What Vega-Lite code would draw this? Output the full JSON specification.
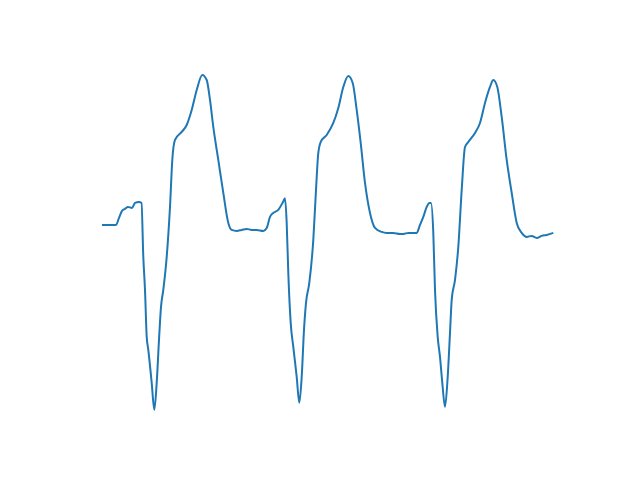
{
  "$schema": "https://vega.github.io/schema/vega-lite/v6.json",
  "width": 496,
  "height": 369,
  "autosize": {"type": "none"},
  "padding": {"left": 80, "top": 58, "right": 64, "bottom": 53},
  "background": "white",
  "config": {"view": {"stroke": null}},
  "data": {"values": [
    {"t":102,"v":15},{"t":116,"v":15},{"t":119,"v":22},{"t":122,"v":29},{"t":125,"v":31},{"t":128,"v":33},{"t":132,"v":32},{"t":135,"v":37},{"t":139,"v":38},{"t":141.5,"v":37},
    {"t":143.3,"v":-17},{"t":145,"v":-50},{"t":146.7,"v":-97},{"t":148.3,"v":-110},{"t":151.7,"v":-143},{"t":154.3,"v":-170},{"t":156.7,"v":-143},{"t":159,"v":-100},{"t":161,"v":-67},{"t":163.3,"v":-50},{"t":166.7,"v":-17},{"t":170,"v":33},{"t":172.3,"v":80},{"t":175,"v":100},{"t":181.7,"v":108},{"t":186.7,"v":115},{"t":191.7,"v":130},{"t":196.7,"v":150},{"t":202.3,"v":165},{"t":206.7,"v":160},{"t":210,"v":140},{"t":213.3,"v":113},{"t":218.3,"v":80},{"t":223.3,"v":47},{"t":228.3,"v":17},{"t":231.7,"v":10},{"t":236.7,"v":9},{"t":241.7,"v":10},{"t":246.7,"v":11},{"t":251.7,"v":10},
    {"t":256.7,"v":10},{"t":263.3,"v":9},{"t":266.7,"v":12},{"t":270,"v":23},{"t":273.3,"v":27},{"t":278.3,"v":30},{"t":283,"v":38},{"t":285,"v":41.7},{"t":286.7,"v":16.7},{"t":288.3,"v":-33},{"t":290.7,"v":-83},{"t":293.3,"v":-107},{"t":296.7,"v":-137},{"t":299.3,"v":-163},{"t":301.7,"v":-137},{"t":304,"v":-90},{"t":306,"v":-63},{"t":309.3,"v":-43},{"t":313.3,"v":0},{"t":316,"v":50},{"t":318.3,"v":87},{"t":320.7,"v":98},{"t":326.7,"v":105},{"t":333.3,"v":117},{"t":338.3,"v":132},{"t":343.3,"v":153},{"t":348.3,"v":164},{"t":352.7,"v":157},{"t":356.7,"v":130},{"t":360.7,"v":97},{"t":365,"v":57},{"t":370,"v":27},{"t":375,"v":12},{"t":381.7,"v":8},{"t":386.7,"v":7},{"t":393.3,"v":7},{"t":400,"v":6},{"t":403.3,"v":6},{"t":408.3,"v":7},{"t":416.7,"v":7},
    {"t":420,"v":15},{"t":423.3,"v":23},{"t":426.7,"v":33},{"t":429.5,"v":37},{"t":431,"v":37},{"t":433.3,"v":7},{"t":435,"v":-50},{"t":437.7,"v":-97},{"t":440,"v":-117},{"t":442.3,"v":-143},{"t":445,"v":-167},{"t":447.7,"v":-137},{"t":450,"v":-93},{"t":451.7,"v":-60},{"t":455,"v":-40},{"t":458.3,"v":-7},{"t":461.7,"v":50},{"t":465,"v":93},{"t":468.3,"v":98},{"t":475,"v":107},{"t":480,"v":117},{"t":485,"v":137},{"t":490,"v":153},{"t":493.3,"v":160},{"t":497.3,"v":153},{"t":501.7,"v":123},{"t":506.7,"v":80},{"t":511.7,"v":47},{"t":516.7,"v":17},{"t":521.7,"v":7},{"t":526.7,"v":3},{"t":531.7,"v":4},{"t":536.7,"v":2},{"t":541.7,"v":4},{"t":546.7,"v":5},{"t":553.3,"v":7}
  ]},
  "mark": {"type": "line", "color": "#1f77b4", "strokeWidth": 2, "interpolate": "monotone"},
  "encoding": {
    "x": {"field": "t", "type": "quantitative", "scale": {"domain": [80, 576], "zero": false, "nice": false}, "axis": null},
    "y": {"field": "v", "type": "quantitative", "scale": {"domain": [-187.2, 182], "zero": false, "nice": false}, "axis": null}
  }
}
